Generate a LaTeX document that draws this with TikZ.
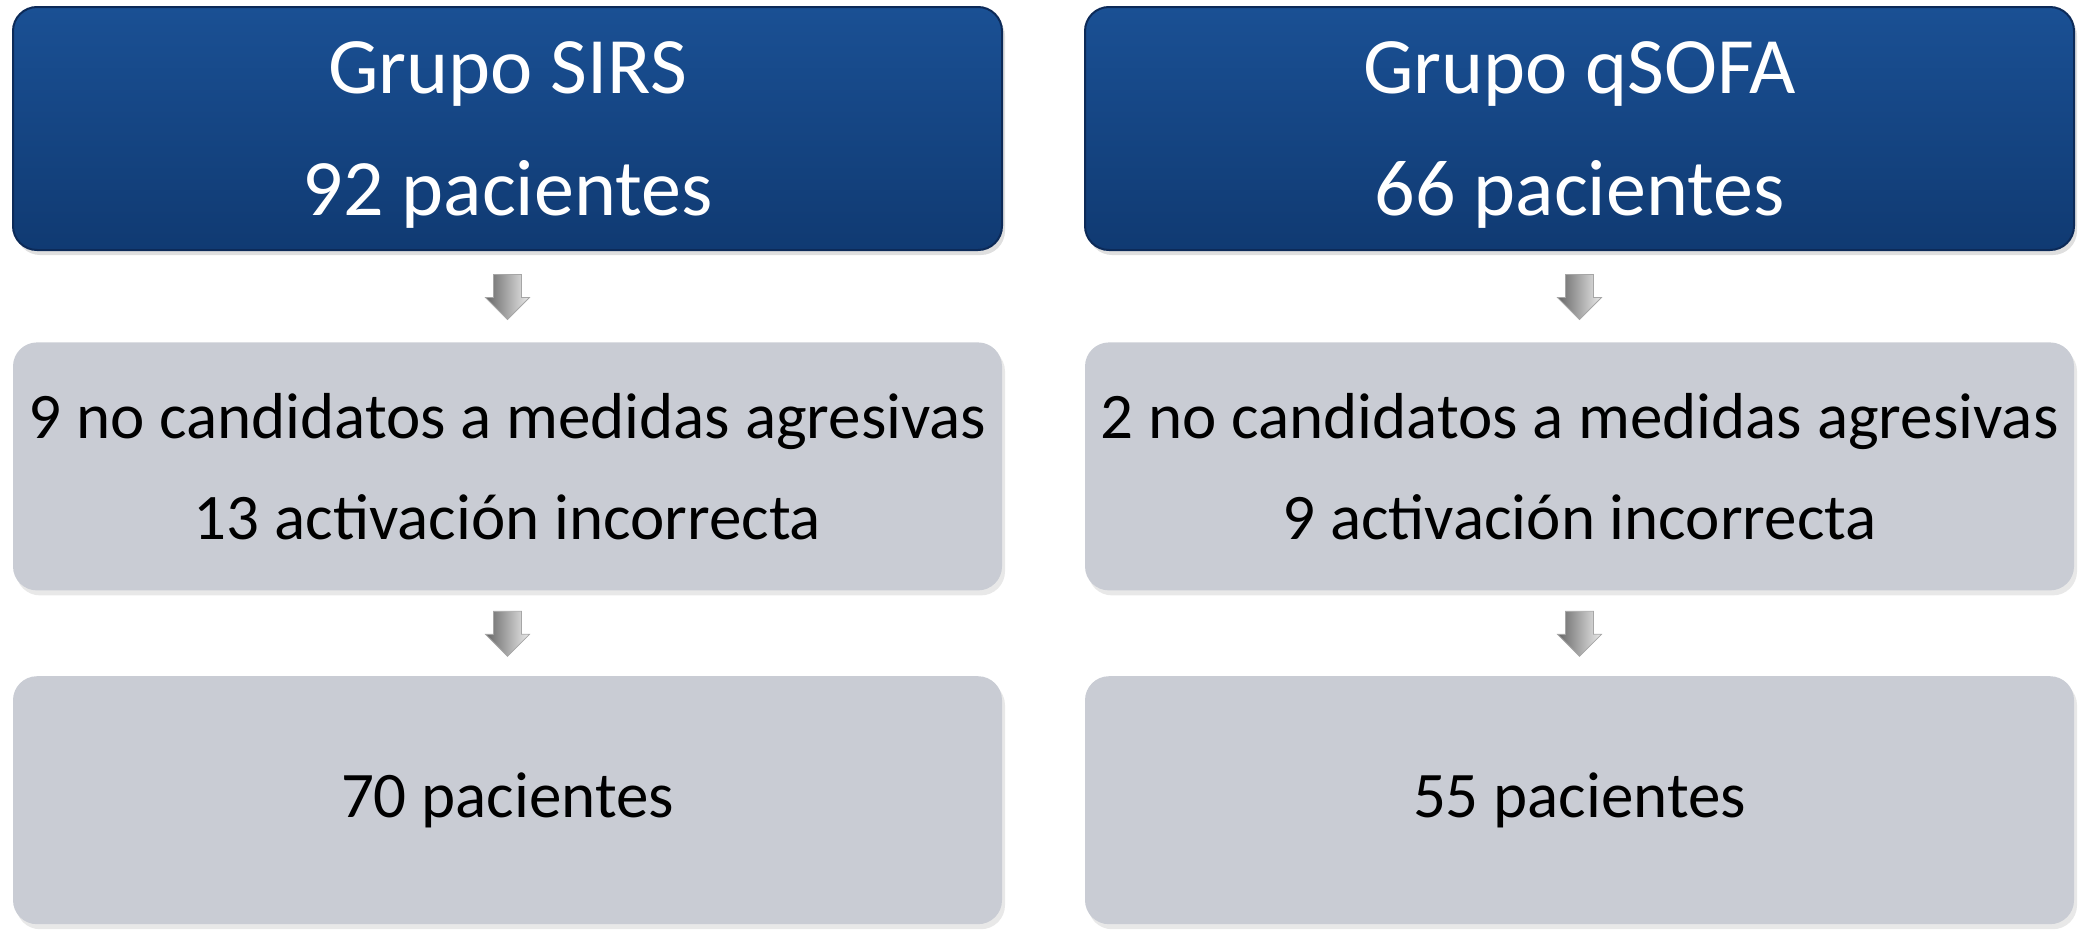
\documentclass[tikz,border=0pt]{standalone}
\usepackage{fontspec}
\setmainfont{Carlito}
\usetikzlibrary{positioning, shadows, calc}
\definecolor{boxblue}{RGB}{26,80,148}
\definecolor{boxbluedark}{RGB}{16,58,114}
\definecolor{boxedge}{RGB}{12,42,88}
\definecolor{boxgray}{RGB}{201,204,212}
\tikzset{%
	head/.style={draw=boxedge, line width=1pt, rounded corners=12pt,%
		top color=boxblue, bottom color=boxbluedark, text=white,%
		minimum width=494.5pt, minimum height=121.5pt, inner sep=0pt, align=center,%
		text depth=0pt, font=\fontsize{40}{61}\selectfont,%
		drop shadow={shadow xshift=1.5pt, shadow yshift=-2.5pt, opacity=0.25}},
	stage/.style={rectangle, rounded corners=12pt, fill=boxgray,%
		minimum width=494.5pt, minimum height=124pt, inner sep=0pt, align=center,%
		font=\fontsize{32.5}{50.5}\selectfont,%
		drop shadow={shadow xshift=1.5pt, shadow yshift=-2.5pt, opacity=0.18}},
	fat arrow/.pic={
		\path[left color=black!60, right color=black!8, draw=black!35, line width=0.4pt]
			(-14,-22) -- (14,-22) -- (14,1) -- (22,1) -- (0,23) -- (-22,1) -- (-14,1) -- cycle;
	}
}
\begin{document}
\begin{tikzpicture}[x=0.5pt, y=-0.5pt]
	\useasboundingbox (0,0) rectangle (2091,942);
	\node[head] (sirs) at (507.5,128.5) {Grupo SIRS\\92 pacientes};
	\node[head] (qsofa) at (1579.5,128.5) {Grupo qSOFA\\66 pacientes};
	\node[stage] (sirs-excl) [below=45.5pt of sirs] {9 no candidatos a medidas agresivas\\13 activación incorrecta};
	\node[stage] (qsofa-excl) [below=45.5pt of qsofa] {2 no candidatos a medidas agresivas\\9 activación incorrecta};
	\node[stage] (sirs-end) [below=42.5pt of sirs-excl] {70 pacientes};
	\node[stage] (qsofa-end) [below=42.5pt of qsofa-excl] {55 pacientes};
	\pic at ($(sirs.south)!0.5!(sirs-excl.north)$) {fat arrow};
	\pic at ($(qsofa.south)!0.5!(qsofa-excl.north)$) {fat arrow};
	\pic at ($(sirs-excl.south)!0.5!(sirs-end.north)$) {fat arrow};
	\pic at ($(qsofa-excl.south)!0.5!(qsofa-end.north)$) {fat arrow};
\end{tikzpicture}
\end{document}
